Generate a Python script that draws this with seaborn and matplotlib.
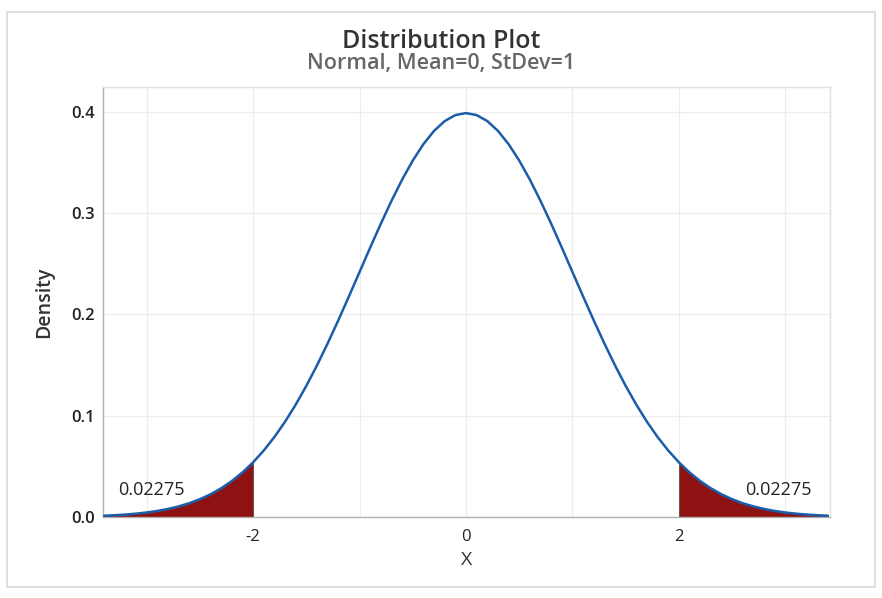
"""
plot.py - Distribution plot of the standard normal with both tails shaded.
"""

import numpy as np
import pandas as pd
import matplotlib.pyplot as plt
import matplotlib.patches as mpatches
import seaborn as sns

# ── data ─────────────────────────────────────────────────────────────────────
x_vals = [
    -3.4, -3.3, -3.2, -3.1, -3.0, -2.9, -2.8, -2.7, -2.6, -2.5, -2.4, -2.3,
    -2.2, -2.1, -2.0, -1.9, -1.8, -1.7, -1.6, -1.5, -1.4, -1.3, -1.2, -1.1,
    -1.0, -0.9, -0.8, -0.7, -0.6, -0.5, -0.4, -0.3, -0.2, -0.1, 0.0,
    0.1, 0.2, 0.3, 0.4, 0.5, 0.6, 0.7, 0.8, 0.9, 1.0, 1.1, 1.2,
    1.3, 1.4, 1.5, 1.6, 1.7, 1.8, 1.9, 2.0, 2.1, 2.2, 2.3, 2.4,
    2.5, 2.6, 2.7, 2.8, 2.9, 3.0, 3.1, 3.2, 3.3, 3.4,
]
density = [
    0.00123, 0.00172, 0.00238, 0.00327, 0.00443, 0.00595, 0.00792, 0.01042,
    0.01358, 0.01753, 0.02239, 0.02833, 0.03547, 0.04398, 0.05399, 0.06562,
    0.07895, 0.09405, 0.11092, 0.12952, 0.14973, 0.17137, 0.19419, 0.21785,
    0.24197, 0.26609, 0.28969, 0.31225, 0.33322, 0.35207, 0.36827, 0.38139,
    0.39104, 0.39695, 0.39894,
    0.39695, 0.39104, 0.38139, 0.36827, 0.35207, 0.33322, 0.31225, 0.28969,
    0.26609, 0.24197, 0.21785, 0.19419, 0.17137, 0.14973, 0.12952, 0.11092,
    0.09405, 0.07895, 0.06562, 0.05399, 0.04398, 0.03547, 0.02833, 0.02239,
    0.01753, 0.01358, 0.01042, 0.00792, 0.00595, 0.00443, 0.00327, 0.00238,
    0.00172, 0.00123,
]
crit_low, crit_high = -2.0, 2.0
tail_label = "0.02275"
x_ticks = [-2, 0, 2]
y_ticks = [0.0, 0.1, 0.2, 0.3, 0.4]
grid_x = [-3, -2, -1, 0, 1, 2, 3]

BLUE = "#1a5ea9"
RED = "#8e1212"

sns.set_style("white")
plt.rcParams["font.family"] = ["Open Sans", "DejaVu Sans"]

df = pd.DataFrame({"x": x_vals, "density": density})

fig = plt.figure(figsize=(8.82, 5.98), dpi=100)
ax = fig.add_axes([0.1168, 0.1355, 0.8243, 0.7190])

# frame around the whole graph
fig.patches.append(mpatches.Rectangle(
    (7 / 882, 1 - 587 / 598), 868 / 882, 575 / 598, transform=fig.transFigure,
    fill=False, edgecolor="#d9d9d9", linewidth=1.2, zorder=0))

# grid
for gx in grid_x:
    ax.axvline(gx, color="#ececec", linewidth=0.8, zorder=0)
for gy in y_ticks[1:]:
    ax.axhline(gy, color="#ececec", linewidth=0.8, zorder=0)

# shaded tails
low = df[df["x"] <= crit_low]
high = df[df["x"] >= crit_high]
ax.fill_between(low["x"], 0, low["density"], color=RED, edgecolor="#555555",
                linewidth=0.6, zorder=2)
ax.fill_between(high["x"], 0, high["density"], color=RED, edgecolor="#555555",
                linewidth=0.6, zorder=2)

sns.lineplot(data=df, x="x", y="density", color=BLUE, linewidth=1.8, ax=ax,
             zorder=3)

ax.text(-2.96, 0.0265, tail_label, ha="center", va="center", fontsize=13,
        color="#222222")
ax.text(2.93, 0.0265, tail_label, ha="center", va="center", fontsize=13,
        color="#222222")

ax.set_xlim(-3.41, 3.42)
ax.set_ylim(0, 0.4247)
ax.set_xticks(x_ticks)
ax.set_xticklabels([str(t) for t in x_ticks])
ax.set_yticks(y_ticks)
ax.set_yticklabels([f"{t:.1f}" for t in y_ticks])
ax.tick_params(axis="both", length=0, labelsize=12, colors="#222222")
ax.tick_params(axis="x", pad=9)
ax.tick_params(axis="y", pad=6)
for lab in ax.get_yticklabels():
    lab.set_fontweight("semibold")

for side in ["top", "right"]:
    ax.spines[side].set_color("#e0e0e0")
for side in ["left", "bottom"]:
    ax.spines[side].set_color("#b0b0b0")
for sp in ax.spines.values():
    sp.set_linewidth(1.0)

ax.set_xlabel("X", fontsize=14, color="#333333", labelpad=4)
ax.set_ylabel("Density", fontsize=14, color="#333333", fontweight="semibold",
              labelpad=12)

fig.text(0.5, 1 - 42 / 598, "Distribution Plot", ha="center", va="center",
         fontsize=18, fontweight="semibold", color="#333333")
fig.text(0.5, 1 - 64 / 598, "Normal, Mean=0, StDev=1", ha="center",
         va="center", fontsize=15.5, fontweight="semibold", color="#666666")

fig.savefig("out.png", dpi=100)
plt.close(fig)
